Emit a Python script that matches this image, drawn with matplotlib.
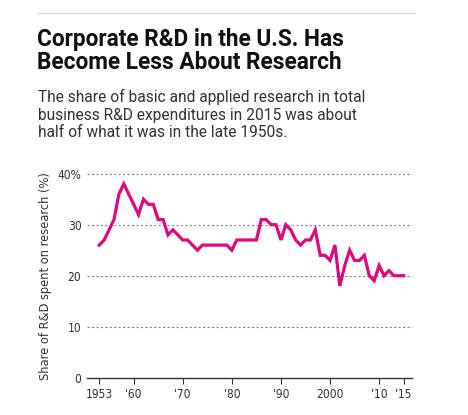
import matplotlib
matplotlib.use("Agg")
import matplotlib.pyplot as plt

# Share of R&D spent on research (%), 1953-2015
years = list(range(1953, 2016))
share = [
    26, 27, 29, 31, 36, 38, 36, 34, 32, 35,   # 1953-1962
    34, 34, 31, 31, 28, 29, 28, 27, 27, 26,   # 1963-1972
    25, 26, 26, 26, 26, 26, 26, 25, 27, 27,   # 1973-1982
    27, 27, 27, 31, 31, 30, 30, 27, 30, 29,   # 1983-1992
    27, 26, 27, 27, 29, 24, 24, 23, 26, 18,   # 1993-2002
    22, 25, 23, 23, 24, 20, 19, 22, 20, 21,   # 2003-2012
    20, 20, 20,                               # 2013-2015
]
xtick_pos = [1953, 1960, 1970, 1980, 1990, 2000, 2010, 2015]
xtick_labels = ["1953", "'60", "'70", "'80", "'90", "2000", "'10", "'15"]
ytick_pos = [0, 10, 20, 30, 40]
ytick_labels = ["0", "10", "20", "30", "40%"]

title = "Corporate R&D in the U.S. Has\nBecome Less About Research"
subtitle = ("The share of basic and applied research in total\n"
            "business R&D expenditures in 2015 was about\n"
            "half of what it was in the late 1950s.")

narrow = dict(family="DejaVu Sans", stretch="condensed")

W, H = 468, 415
fig = plt.figure(figsize=(W / 100, H / 100), dpi=100)

# thin rule at top
fig.add_artist(plt.Line2D([37 / W, 415 / W], [1 - 13 / H, 1 - 13 / H],
                          color="#d9d9d9", lw=0.9))

fig.text(37 / W, 1 - 28 / H, title, family="Roboto", weight="bold",
         fontsize=16.3, va="top", ha="left", color="#111111", linespacing=1.0)
fig.text(38 / W, 1 - 89 / H, subtitle, family="Roboto", fontsize=11.2,
         va="top", ha="left", color="#333333", linespacing=1.22)

left, right = 87 / W, 412 / W
bottom, top = 1 - 377.7 / H, 1 - 173.7 / H
ax = fig.add_axes([left, bottom, right - left, top - bottom])

ax.plot(years, share, color="#e0077d", lw=2.3, solid_joinstyle="miter", zorder=3)

ax.set_xlim(1950.5, 2016.7)
ax.set_ylim(0, 40)

for y in ytick_pos[1:]:
    ax.axhline(y, color="#8a8a8a", lw=0.8, ls=(0, (2, 2)), zorder=1, clip_on=False)

for s in ["top", "right", "left"]:
    ax.spines[s].set_visible(False)
ax.spines["bottom"].set_color("#333333")
ax.spines["bottom"].set_linewidth(1.0)

ax.set_xticks(xtick_pos)
ax.set_xticklabels(xtick_labels, fontsize=8.6, color="#333333", **narrow)
ax.set_yticks(ytick_pos)
ax.set_yticklabels(ytick_labels, fontsize=8.6, color="#333333", **narrow)
ax.tick_params(axis="x", length=4, width=0.8, color="#333333", pad=3.5)
ax.tick_params(axis="y", length=0, pad=4)

ax.set_ylabel("Share of R&D spent on research (%)", fontsize=9.2,
              color="#333333", labelpad=4, **narrow)

fig.savefig("out.png", dpi=100)
